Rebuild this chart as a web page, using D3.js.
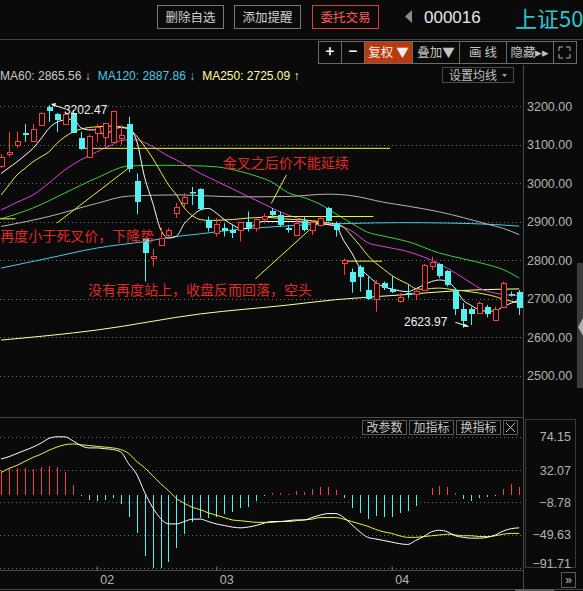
<!DOCTYPE html>
<html><head><meta charset="utf-8">
<script src="https://cdn.jsdelivr.net/npm/d3@7"></script>
<style>
html,body{margin:0;padding:0;background:#0a0a0a;overflow:hidden;}
svg{display:block;}
text{font-family:"Liberation Sans",Arial,sans-serif;}
.cjk{font-family:"Noto Sans CJK SC","Noto Sans",sans-serif;}
</style></head><body>
<svg id="c" width="583" height="591"></svg>
<script>
// ---------------- DATA ----------------
const opens  = [3045,3075,3099,3131,3109,3151,3198,3179,3153,3182,3117,3068,3129,3120,3106,3117,3152,3005,2856,2806,2839,2865,2921,2948,2977,2984,2904,2869,2883,2878,2878,2900,2882,2906,2928,2917,2884,2865,2901,2878,2891,2934,2895,2791,2770,2781,2722,2700,2740,2725,2694,2714,2712,2722,2784,2790,2772,2722,2672,2672,2663,2679,2644,2679,2711,2718];
const highs  = [3075,3133,3133,3153,3153,3185,3202.47,3182,3184,3190,3133,3127,3153,3156,3188,3151,3172,3025,2858,2829,2884,2883,2948,2974,2990,2986,2913,2909,2895,2891,2900,2926,2908,2921,2935,2926,2891,2904,2913,2904,2913,2938,2900,2804,2778,2787,2757,2748,2744,2758,2714,2735,2727,2790,2809,2791,2774,2727,2688,2679,2692,2683,2679,2744,2718,2722];
const lows   = [3039,3068,3091,3107,3107,3150,3159,3132,3150,3130,3086,3066,3107,3094,3105,3099,3028,2919,2744,2783,2837,2857,2909,2938,2943,2930,2874,2861,2861,2857,2848,2874,2874,2895,2911,2887,2871,2862,2874,2865,2887,2900,2861,2761,2715,2718,2696,2666,2722,2714,2689,2701,2696,2722,2774,2753,2731,2657,2623.97,2631,2660,2651,2642,2676,2705,2657];
const closes = [3068,3081,3109,3125,3140,3183,3188,3164,3179,3130,3088,3123,3146,3156,3187,3125,3036,2951,2817,2811,2858,2878,2938,2964,2974,2932,2882,2894,2876,2871,2900,2882,2906,2914,2917,2891,2879,2897,2878,2900,2908,2902,2878,2800,2744,2755,2700,2741,2727,2718,2703,2710,2720,2787,2796,2759,2735,2672,2642,2660,2688,2660,2672,2740,2708,2675];

const ma5  = [3025,3040,3055,3072,3090,3115,3142,3158,3164,3166,3144,3138,3138,3125,3138,3144,3140,3110,3015,2950,2880,2857,2862,2895,2915,2930,2934,2922,2905,2892,2882,2882,2895,2900,2900,2900,2900,2900,2898,2896,2895,2892,2887,2850,2818,2780,2760,2742,2730,2725,2720,2718,2725,2735,2744,2748,2744,2725,2695,2682,2670,2667,2668,2679,2688,2696];
const ma10 = [2969,2995,3021,3038,3055,3068,3081,3103,3120,3132,3140,3144,3146,3147,3148,3146,3142,3122,3095,3065,3030,2995,2969,2935,2915,2905,2903,2903,2904,2905,2907,2909,2910,2911,2910,2908,2906,2905,2904,2902,2900,2897,2893,2885,2862,2838,2812,2792,2776,2760,2748,2738,2726,2724,2726,2727,2725,2722,2720,2717,2714,2710,2705,2698,2693,2688];
// sparse MA samples: [candle index, value]
const ma20  = [[0,2930],[2,2950],[4,2969],[6,3000],[8,3034],[10,3060],[12,3081],[14,3100],[15,3110],[16,3112],[17,3112],[18,3105],[19,3095],[20,3082],[21,3070],[22,3060],[25,3025],[27,3005],[29,2985],[31,2965],[33,2945],[35,2925],[37,2910],[40,2897],[43,2885],[44,2875],[46,2845],[48,2835],[51,2822],[53,2808],[55,2790],[57,2766],[59,2740],[60,2727],[62,2714],[65,2707]];
const ma30  = [[0,2907],[4,2935],[8,2974],[12,3013],[16,3044],[20,3046],[24,3045],[27,3042],[30,3030],[32,3018],[34,3002],[36,2975],[38,2962],[40,2945],[42,2920],[44,2895],[46,2872],[48,2862],[51,2848],[55,2818],[58,2803],[61,2788],[63,2775],[65,2753]];
const ma60  = [[0,2887],[6,2913],[12,2947],[16,2966],[22,2969],[30,2964],[36,2965],[41,2971],[44,2967],[48,2950],[51,2940],[55,2925],[58,2910],[61,2893],[63,2882],[65,2866]];
const ma120 = [[0,2779],[6,2805],[12,2831],[18,2848],[22,2861],[25,2868],[29,2878],[34,2886],[38,2891],[44,2895],[50,2897],[56,2896],[62,2892],[65,2888]];
const ma250 = [[0,2592],[12,2618],[25,2660],[36,2683],[42,2697],[50,2709],[57,2720],[65,2725]];

const macdHist = [32.1,34.2,34.2,34.2,33.3,35.5,37.2,36.3,29.1,13.1,-0.5,-5.8,-6.6,-5.8,-3.7,-11.3,-26.9,-47.9,-76.1,-92.1,-91.3,-83.7,-66.0,-49.2,-33.2,-28.1,-28.1,-26.9,-23.9,-21.4,-16.3,-14.2,-7.1,-0.3,3.5,2.6,1.8,5.6,4.7,7.7,11.1,11.1,6.8,-2.9,-16.3,-22.6,-29.8,-25.6,-26.9,-26.9,-22.6,-19.7,-12.9,0,9.8,11.9,10.6,2.6,-4.5,-7.1,-2.9,-2.4,-0.8,8.1,14.0,10.6];
const dif = [46,49,53,57,61,66,72,74,74,69,63,60,60,59,58,55,40,27,4,-15,-29,-36,-36,-33,-30,-30,-33,-36,-38,-40,-41,-40,-38,-35,-33,-33,-32,-31,-31,-28,-25,-23,-23,-28,-37,-46,-53,-55,-57,-59,-61,-62,-57,-52,-46,-44,-46,-51,-53,-54,-54,-53,-50,-45,-42,-41];
const dea = [29,34,38,43,48,52,57,61,64,65,64,63,62,61,60,58,53,43,35,25,15,6,-4,-10,-15,-18,-22,-25,-28,-31,-32,-33,-34,-34,-34,-33,-33,-32,-31,-30,-28,-28,-28,-30,-33,-36,-39,-43,-46,-48,-51,-53,-53,-52,-51,-50,-49,-50,-51,-51,-52,-52,-51,-49,-48,-48];

const priceTicks = [3200,3100,3000,2900,2800,2700,2600,2500];
const macdTicks  = [74.15,32.07,-8.78,-49.63,-91.71];
const monthIdx   = [12,27,49];
const monthLabels= ["02","03","04"];

const legendNames = ["MA60","MA120","MA250"];
const legendValues = [2865.56,2887.86,2725.09];
const legendArrows = ["\u2193","\u2193","\u2191"];

// user-drawn yellow lines: [i1,v1,i2,v2]
const drawnLines = [[10,3090,48.8,3090],[33.2,2913,46.7,2913],[42.9,2797,47.8,2797],[-0.2,2907,1.8,2907],[7,2896,16.2,3042],[33.9,2947,35.8,3021],[31.9,2751,39.8,2899]];
const notes = [
  {i:27.8, v:3040, t:"金叉之后价不能延续"},
  {i:-0.1, v:2850, t:"再度小于死叉价，下降势"},
  {i:10.9, v:2708, t:"没有再度站上，收盘反而回落，空头"}
];
const extremes = [{i:6, v:3202.47, t:"3202.47", side:"right"},{i:58, v:2623.97, t:"2623.97", side:"left"}];

// ---------------- SCALES ----------------
const W=583,H=591, plotR=523;
const x = d3.scaleLinear().domain([0,65]).range([1.1,519.2]);
const y = d3.scaleLinear().domain([2500,3200]).range([375.5,106]);
const ym = d3.scaleLinear().domain([-91.71,74.15]).range([568,436.7]);

const svg = d3.select("#c");
svg.append("rect").attr("width",W).attr("height",H).attr("fill","#0a0a0a");

const defs = svg.append("defs");
defs.append("clipPath").attr("id","mainClip").append("rect").attr("x",0).attr("y",65).attr("width",plotR).attr("height",352);
defs.append("clipPath").attr("id","macdClip").append("rect").attr("x",0).attr("y",419).attr("width",plotR).attr("height",151);

// ---------------- TOP BAR ----------------
function button(g,x0,y0,w,h,label,stroke,color,fill,fs){
  g.append("rect").attr("x",x0+0.5).attr("y",y0+0.5).attr("width",w).attr("height",h)
   .attr("fill",fill||"none").attr("stroke",stroke);
  g.append("text").attr("class","cjk").attr("x",x0+w/2+0.5).attr("y",y0+h/2+(fs||12.5)*0.36+0.5)
   .attr("text-anchor","middle").attr("font-size",fs||12.5).attr("fill",color).text(label);
}
const topG = svg.append("g");
button(topG,157,5,66,23,"删除自选","#7a7a7a","#d2d2d2");
button(topG,234,5,66,23,"添加提醒","#7a7a7a","#d2d2d2");
button(topG,312,5,66,23,"委托交易","#d84040","#ff5a5a");
topG.append("path").attr("d","M405,16.5 L412,10 L412,23 Z").attr("fill","#8a8a8a");
topG.append("text").attr("x",424).attr("y",23).attr("font-size",17).attr("fill","#e6e6e6").text("000016");
topG.append("text").attr("class","cjk").attr("x",515).attr("y",27).attr("font-size",22).attr("fill","#2ec4d2").text("上证50");
topG.append("line").attr("x1",0).attr("x2",W).attr("y1",39.5).attr("y2",39.5).attr("stroke","#444");

// toolbar row 2
const tb = svg.append("g");
const cells = [[318,341,"+"],[341,364,"\u2212"],[364,412,"复权 \u25BC"],[412,459,"叠加\u25BC"],[459,506,"画 线"],[506,553,"隐藏\u25B8\u25B8"],[553,576,""]];
cells.forEach(([a,b,t],k)=>{
  tb.append("rect").attr("x",a+0.5).attr("y",41.5).attr("width",b-a).attr("height",22)
    .attr("fill",k===2?"#b83a0e":"#0a0a0a").attr("stroke","#6a6a6a");
  tb.append("text").attr("class","cjk").attr("x",(a+b)/2+0.5).attr("y",57).attr("text-anchor","middle")
    .attr("font-size",k<2?15:12.5).attr("font-weight",k<2?"bold":"normal")
    .attr("fill",k<3?"#f0f0f0":"#c4c4c4").text(t);
});
tb.append("path").attr("d","M559,51 v-4 h4 M570,47 h-4 M570,47 v4 M559,54 v4 h4 M570,58 h-4 M570,58 v-4")
  .attr("stroke","#b0b0b0").attr("fill","none");

// ---------------- LEGEND ----------------
const legColors = ["#c8c8c8","#4cc8e4","#ffffa0"];
const leg = svg.append("text").attr("x",0).attr("y",80).attr("font-size",12);
legendNames.forEach((n,k)=>{
  leg.append("tspan").attr("fill",legColors[k]).attr("dx",k?7:0)
     .text(`${n}: ${legendValues[k].toFixed(2)} ${legendArrows[k]}`);
});
svg.append("rect").attr("x",442.5).attr("y",67.5).attr("width",71).attr("height",15).attr("fill","none").attr("stroke","#4a4a4a");
svg.append("text").attr("class","cjk").attr("x",449).attr("y",79.5).attr("font-size",12).attr("fill","#c0c0c0").text("设置均线");
svg.append("path").attr("d","M502,74 h5 l-2.5,3 z").attr("fill","#a0a0a0");

// ---------------- FRAME ----------------
svg.append("line").attr("x1",plotR+0.5).attr("x2",plotR+0.5).attr("y1",65).attr("y2",589).attr("stroke","#4a4a4a");
svg.append("line").attr("x1",0).attr("x2",plotR).attr("y1",417.5).attr("y2",417.5).attr("stroke","#4a4a4a");
svg.append("rect").attr("x",525.5).attr("y",419.5).attr("width",50).attr("height",148).attr("fill","none").attr("stroke","#3a3a3a");
svg.append("rect").attr("x",577).attr("y",263).attr("width",6).attr("height",125).attr("fill","#3c3c3c");
svg.append("path").attr("d","M583,318 L578,327 L583,336 Z").attr("fill","#b0b0b0");

// ---------------- MAIN GRID & AXIS ----------------
const mainG = svg.append("g");
mainG.selectAll("line.grid").data(priceTicks).join("line").attr("class","grid")
  .attr("x1",0).attr("x2",plotR).attr("y1",d=>Math.round(y(d))+0.5).attr("y2",d=>Math.round(y(d))+0.5)
  .attr("stroke","#6a6a6a").attr("stroke-dasharray","1,3");
const yAxis = d3.axisRight(y).tickValues(priceTicks).tickFormat(d3.format(".2f")).tickSize(0).tickPadding(3);
const ya = svg.append("g").attr("transform",`translate(${plotR+1},0)`).call(yAxis);
ya.select(".domain").remove();
ya.selectAll("text").attr("fill","#b4b4b4").attr("font-size",12.5).attr("font-family","Liberation Sans, Arial");

// ---------------- MOVING AVERAGES ----------------
const plot = svg.append("g").attr("clip-path","url(#mainClip)");
const lineArr = d3.line().x((d,i)=>x(i)).y(d=>y(d)).curve(d3.curveMonotoneX);
const linePairs = d3.line().x(d=>x(d[0])).y(d=>y(d[1])).curve(d3.curveMonotoneX);
[[ma250,"#ffffa0"],[ma120,"#4cc8e4"],[ma60,"#b4b4b4"],[ma30,"#3cd23c"],[ma20,"#e040e0"]].forEach(([d,c])=>{
  plot.append("path").attr("d",linePairs(d)).attr("fill","none").attr("stroke",c).attr("stroke-width",1);
});
plot.append("path").attr("d",lineArr(ma10)).attr("fill","none").attr("stroke","#f0f03c").attr("stroke-width",1);
plot.append("path").attr("d",lineArr(ma5)).attr("fill","none").attr("stroke","#ffffff").attr("stroke-width",1);

plot.selectAll("line.drawn").data(drawnLines).join("line").attr("class","drawn")
  .attr("x1",d=>x(d[0])).attr("y1",d=>y(d[1])).attr("x2",d=>x(d[2])).attr("y2",d=>y(d[3]))
  .attr("stroke","#f0f03c").attr("stroke-width",1);

// ---------------- CANDLES ----------------
const UP="#ff3c3c", DN="#54f0f0";
const cg = plot.append("g");
d3.range(opens.length).forEach(i=>{
  const cx = Math.round(x(i));
  const up = closes[i] >= opens[i];
  const col = up?UP:DN;
  const yt = y(Math.max(opens[i],closes[i])), yb = y(Math.min(opens[i],closes[i]));
  const yh = y(highs[i]), yl = y(lows[i]);
  if(up){
    cg.append("line").attr("x1",cx+0.5).attr("x2",cx+0.5).attr("y1",yh).attr("y2",yt).attr("stroke",col);
    cg.append("line").attr("x1",cx+0.5).attr("x2",cx+0.5).attr("y1",yb).attr("y2",yl).attr("stroke",col);
    cg.append("rect").attr("x",cx-2+0.5).attr("y",Math.round(yt)+0.5).attr("width",5)
      .attr("height",Math.max(1,Math.round(yb)-Math.round(yt))).attr("fill","#0a0a0a").attr("stroke",col);
  } else {
    cg.append("line").attr("x1",cx+0.5).attr("x2",cx+0.5).attr("y1",yh).attr("y2",yl).attr("stroke",col);
    cg.append("rect").attr("x",cx-2.5+0.5).attr("y",Math.round(yt)).attr("width",6)
      .attr("height",Math.max(1.5,Math.round(yb)-Math.round(yt))).attr("fill",col);
  }
});

// extreme labels
extremes.forEach(e=>{
  const px = x(e.i), py = y(e.v);
  const g = svg.append("g");
  if(e.side==="right"){
    g.append("line").attr("x1",px+3).attr("y1",py-0.5).attr("x2",px+17).attr("y2",py+4).attr("stroke","#fff");
    g.append("path").attr("d",`M${px+2},${py-1} l5,-1 l-1,4 z`).attr("fill","#fff");
    g.append("text").attr("x",px+15).attr("y",py+9).attr("font-size",12).attr("fill","#f0f0f0").text(e.t);
  } else {
    g.append("line").attr("x1",px-8).attr("y1",py-5.5).attr("x2",px+4).attr("y2",py-1.5).attr("stroke","#fff");
    g.append("path").attr("d",`M${px+6},${py-1} l-5,-3 l-1,3 z`).attr("fill","#fff");
    g.append("text").attr("x",px-16).attr("y",py-2).attr("text-anchor","end").attr("font-size",12).attr("fill","#f0f0f0").text(e.t);
  }
});

// notes
svg.selectAll("text.note").data(notes).join("text").attr("class","note cjk")
  .attr("x",d=>x(d.i)).attr("y",d=>y(d.v)).attr("font-size",14).attr("fill","#e02828").text(d=>d.t);

// ---------------- MACD ----------------
const macdG = svg.append("g");
macdG.selectAll("line.mg").data(macdTicks).join("line").attr("class","mg")
  .attr("x1",0).attr("x2",plotR).attr("y1",d=>Math.round(ym(d))+0.5).attr("y2",d=>Math.round(ym(d))+0.5)
  .attr("stroke","#6a6a6a").attr("stroke-dasharray","1,3");
const mp = macdG.append("g").attr("clip-path","url(#macdClip)");
mp.selectAll("line.bar").data(macdHist).join("line").attr("class","bar")
  .attr("x1",(d,i)=>Math.round(x(i))+0.5).attr("x2",(d,i)=>Math.round(x(i))+0.5)
  .attr("y1",Math.round(ym(0))).attr("y2",d=>Math.round(ym(d)))
  .attr("stroke",d=>d>=0?"#ff3c3c":"#54f0f0").attr("stroke-width",1).attr("shape-rendering","crispEdges");
const mline = d3.line().x((d,i)=>x(i)).y(d=>ym(d)).curve(d3.curveMonotoneX);
mp.append("path").attr("d",mline(dea)).attr("fill","none").attr("stroke","#f0f03c");
mp.append("path").attr("d",mline(dif)).attr("fill","none").attr("stroke","#ffffff");

const mAxis = d3.axisRight(ym).tickValues(macdTicks).tickFormat(d3.format(".2f")).tickSize(0).tickPadding(0);
const mAx = svg.append("g").attr("transform","translate(571,0)").call(mAxis);
mAx.select(".domain").remove();
mAx.selectAll("text").attr("text-anchor","end").attr("fill","#b4b4b4").attr("font-size",12.5)
  .attr("font-family","Liberation Sans, Arial").attr("dy",(d,k)=>k===macdTicks.length-1?"-0.05em":"0.32em");

// MACD buttons
const mb = svg.append("g");
[[362,44,"改参数"],[409,44,"加指标"],[456,44,"换指标"]].forEach(([a,w,t])=>button(mb,a,420,w,14,t,"#5a5a5a","#c8c8c8","none",12));
mb.append("rect").attr("x",503.5).attr("y",420.5).attr("width",14).attr("height",14).attr("fill","none").attr("stroke","#5a5a5a");
mb.append("path").attr("d","M506,423 l9,9 M515,423 l-9,9").attr("stroke","#c0c0c0");

// ---------------- X AXIS ----------------
const xAxis = d3.axisBottom(x).tickValues(monthIdx).tickFormat((d,k)=>monthLabels[k]).tickSize(-4).tickPadding(5);
const xa = svg.append("g").attr("transform","translate(0,570.5)").call(xAxis);
xa.select(".domain").attr("d",`M0,0H${plotR}`).attr("stroke","#4a4a4a");
xa.selectAll(".tick line").attr("stroke","#7a7a7a");
xa.selectAll("text").attr("fill","#b4b4b4").attr("font-size",12.5).attr("font-family","Liberation Sans, Arial").attr("dx","0.8em");
svg.append("line").attr("x1",0).attr("x2",W).attr("y1",589.5).attr("y2",589.5).attr("stroke","#444");
svg.append("rect").attr("x",515).attr("y",589).attr("width",39).attr("height",2).attr("fill","#5a5a5a");
svg.append("rect").attr("x",561.5).attr("y",572.5).attr("width",14).attr("height",15).attr("fill","none").attr("stroke","#5a5a5a");
svg.append("text").attr("x",568.5).attr("y",584).attr("text-anchor","middle").attr("font-size",12).attr("fill","#c0c0c0").text("\u00BB");
</script>
</body></html>
